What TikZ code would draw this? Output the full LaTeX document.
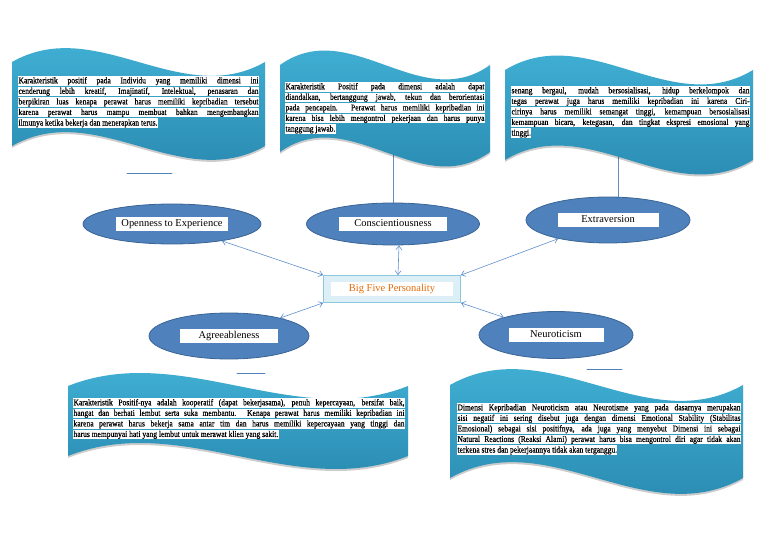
\documentclass[tikz,border=0pt]{standalone}
\usepackage{fontspec}
\setmainfont{Liberation Serif}
\newfontfamily\parafont{Liberation Serif}[FakeStretch=0.86, FakeBold=0.6]
\usetikzlibrary{shapes.geometric,shadows,arrows.meta}
\definecolor{ellfill}{HTML}{4F81BD}
\definecolor{elldraw}{HTML}{3A6494}
\definecolor{wavetop}{HTML}{45B7DA}
\definecolor{wavebot}{HTML}{2684AC}
\definecolor{corefill}{HTML}{DCEFF7}
\definecolor{coredraw}{HTML}{8CC7DD}
\definecolor{coretext}{HTML}{E36C09}
\definecolor{linkblue}{HTML}{5F8FCB}
\setlength{\fboxsep}{0.3pt}
% one justified line / last line of a paragraph
\newcommand\jl[2]{\colorbox{white}{\makebox[#1][s]{\rule[-2.2pt]{0pt}{9pt}#2}}}
\newcommand\el[1]{\colorbox{white}{\rule[-2.2pt]{0pt}{9pt}#1}}
\newcommand\lbl[2]{\setlength{\fboxsep}{1pt}\colorbox{white}{\makebox[#1]{\rule[-3pt]{0pt}{11.5pt}#2}}}
% wave box: left, top, right, bottom, amplitude
\newcommand\wavebox[5]{%
  \path[wave] (#1,#2) .. controls ({#1+(#3-#1)/3},{#2-#5}) and ({#1+2*(#3-#1)/3},{#2+#5}) .. (#3,#2)
    -- (#3,#4) .. controls ({#3-(#3-#1)/3},{#4+#5}) and ({#3-2*(#3-#1)/3},{#4-#5}) .. (#1,#4) -- cycle;}
\begin{document}
\begin{tikzpicture}[x=1bp, y=-1bp, >={Straight Barb[length=4bp,width=6bp]}, line join=round, line cap=round,
    wave/.style={top color=wavetop, bottom color=wavebot,
      drop shadow={shadow xshift=0bp, shadow yshift=-2bp, fill=black, opacity=0.2}},
    para/.style={anchor=north west, inner sep=0pt, align=left, font=\parafont\fontsize{8.8}{10.6}\selectfont},
    trait/.style={ellipse, fill=ellfill, draw=elldraw, line width=0.8pt, inner sep=0pt,
      font=\fontsize{10.5}{12}\selectfont},
    core/.style={rectangle, fill=corefill, draw=coredraw, line width=0.8pt, minimum width=137bp,
      minimum height=27bp, inner sep=0pt, font=\fontsize{10.5}{12}\selectfont},
    link/.style={<->, draw=linkblue, line width=0.6pt},
    stub/.style={draw=ellfill, line width=0.9pt},
    riser/.style={draw=linkblue!80!gray, line width=0.6pt}]
\useasboundingbox (0,0) rectangle (768,543);

% risers from the text boxes
\coordinate (ctop) at (393,150);
\coordinate (xtop) at (618,150);
\draw[riser] (ctop) -- (393,203);
\draw[riser] (xtop) -- (618,197);

% short stubs
\draw[stub] (127,173) -- (172,173);
\draw[stub] (237,373) -- (265,373);
\draw[stub] (587,369) -- (622,369);

% wave boxes
\wavebox{12}{62}{265}{146}{48}
\wavebox{280}{65}{490}{152}{50}
\wavebox{505}{70}{753}{160}{50}
\wavebox{68}{386}{408}{456}{45}
\wavebox{450}{385}{743}{478}{55}

\node[para] (opentext) at (18,76) {%
  \jl{240bp}{Karakteristik positif pada Individu yang memiliki dimensi ini}\\
  \jl{240bp}{cenderung lebih kreatif, Imajinatif, Intelektual, penasaran dan}\\
  \jl{240bp}{berpikiran luas kenapa perawat harus memiliki kepribadian tersebut}\\
  \jl{240bp}{karena perawat harus mampu membuat bahkan mengembangkan}\\
  \el{ilmunya ketika bekerja dan menerapkan terus.}};

\node[para] (consctext) at (285,82) {%
  \jl{199bp}{Karakteristik Positif pada dimensi adalah dapat}\\
  \jl{199bp}{diandalkan, bertanggung jawab, tekun dan berorientasi}\\
  \jl{199bp}{pada pencapain. Perawat harus memiliki kepribadian ini}\\
  \jl{199bp}{karena bisa lebih mengontrol pekerjaan dan harus punya}\\
  \el{tanggung jawab.}};

\node[para] (extratext) at (511,86) {%
  \jl{238bp}{senang bergaul, mudah bersosialisasi, hidup berkelompok dan}\\
  \jl{238bp}{tegas perawat juga harus memiliki kepribadian ini karena Ciri-}\\
  \jl{238bp}{cirinya harus memiliki semangat tinggi, kemampuan bersosialisasi}\\
  \jl{238bp}{kemampuan bicara, ketegasan, dan tingkat ekspresi emosional yang}\\
  \el{tinggi.}};

\node[para] (agreetext) at (73,398) {%
  \jl{331bp}{Karakteristik Positif-nya adalah kooperatif (dapat bekerjasama), penuh kepercayaan, bersifat baik,}\\
  \jl{331bp}{hangat dan berhati lembut serta suka membantu. Kenapa perawat harus memiliki kepribadian ini}\\
  \jl{331bp}{karena perawat harus bekerja sama antar tim dan harus memiliki kepercayaan yang tinggi dan}\\
  \el{harus mempunyai hati yang lembut untuk merawat klien yang sakit.}};

\node[para] (neurotext) at (457,403) {%
  \jl{283bp}{Dimensi Kepribadian Neuroticism atau Neurotisme yang pada dasarnya merupakan}\\
  \jl{283bp}{sisi negatif ini sering disebut juga dengan dimensi Emotional Stability (Stabilitas}\\
  \jl{283bp}{Emosional) sebagai sisi positifnya, ada juga yang menyebut Dimensi ini sebagai}\\
  \jl{283bp}{Natural Reactions (Reaksi Alami) perawat harus bisa mengontrol diri agar tidak akan}\\
  \el{terkena stres dan pekerjaannya tidak akan terganggu.}};

% the five traits
\node[trait, minimum width=178bp, minimum height=40bp] (open) at (172,224) {\lbl{110bp}{Openness to Experience}};
\node[trait, minimum width=173bp, minimum height=42bp] (consc) at (393,224) {\lbl{106bp}{Conscientiousness}};
\node[trait, minimum width=164bp, minimum height=46bp] (extra) at (608,220) {\lbl{99bp}{Extraversion}};
\node[trait, minimum width=160bp, minimum height=46bp] (agree) at (229,336) {\lbl{97bp}{Agreeableness}};
\node[trait, minimum width=154bp, minimum height=47bp] (neuro) at (556,335) {\lbl{93bp}{Neuroticism}};

\node[core] (big) at (392,289) {\setlength{\fboxsep}{1pt}\colorbox{white}{\makebox[120bp]{\rule[-3pt]{0pt}{11.5pt}\color{coretext}Big Five Personality}}};

\draw[link] (open) -- (big.north west);
\draw[link] ([xshift=6bp]consc.south) -- ([xshift=6bp]big.north);
\draw[link] (extra) -- (big.north east);
\draw[link] (agree) -- (big.south west);
\draw[link] (neuro) -- (big.south east);
\end{tikzpicture}
\end{document}
